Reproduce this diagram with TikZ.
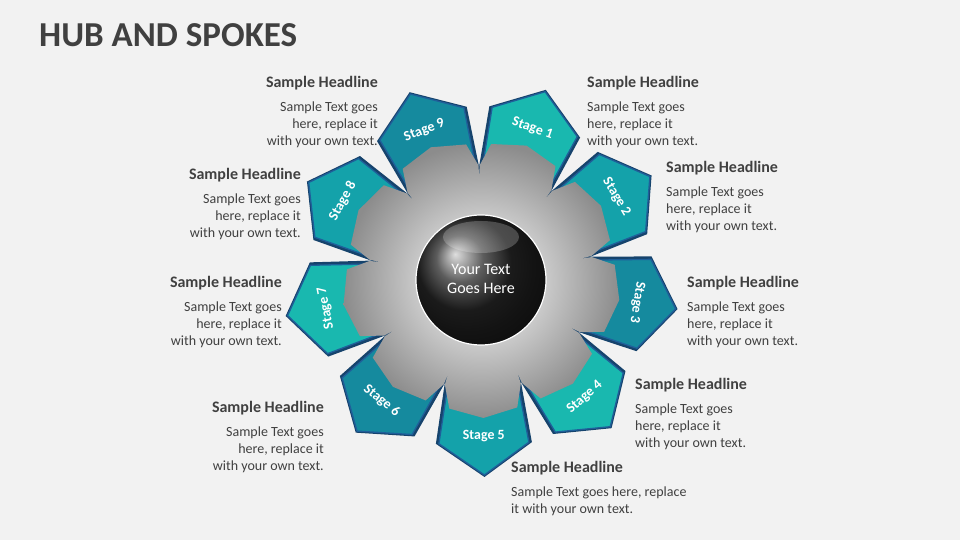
\documentclass[tikz,border=0pt]{standalone}
\usepackage{fontspec}
\setmainfont{Carlito}
\usetikzlibrary{calc}
\definecolor{bg}{HTML}{F2F2F2}
\definecolor{tx}{HTML}{404040}
\definecolor{edge}{HTML}{1F5F9A}
\definecolor{tA}{HTML}{19B8AF}
\definecolor{tB}{HTML}{14A2AA}
\definecolor{tC}{HTML}{158A9E}
\tikzset{
  hd/.style={font=\fontsize{16}{19}\selectfont\bfseries, text=tx, inner sep=0pt},
  bd/.style={font=\fontsize{14}{17}\selectfont, text=tx, inner sep=0pt},
  stg/.style={font=\fontsize{14}{16}\selectfont\bfseries, text=white, inner sep=0pt},
}
\begin{document}
\begin{tikzpicture}[x=1pt,y=1pt]
\fill[bg] (0,0) rectangle (960,540);
\useasboundingbox (0,0) rectangle (960,540);
\node[anchor=west, font=\fontsize{35}{38}\selectfont\bfseries, text=tx, inner sep=0pt] (title) at (39,505) {HUB AND SPOKES};
% spokes
\foreach \i/\a/\c in {1/71/tA,2/31/tB,3/-9/tC,4/-49/tA,5/-89/tB,6/-129/tC,7/-169/tA,8/-209/tB,9/-249/tC}{
  \begin{scope}[shift={(481,262)},rotate=\a]
    \fill[edge!70!black] (92,-36)--(165,-48)--(199,0)--(165,48)--(92,36)--cycle;
    \draw[edge, line width=1.3pt, fill=\c, line join=miter] (95,-33)--(165,-45)--(197,0)--(165,45)--(95,33)--cycle;
  \end{scope}
}
% gear
\begin{scope}[shift={(481,262)}]
\shade[inner color=white, outer color=gray!90, shading=radial]
  ([rotate=71]106,38)
  \foreach \a in {71,31,-9,-49,-89,-129,-169,-209,-249}{
    -- ([rotate=\a]106,38) -- ([rotate=\a]130,34) -- ([rotate=\a]140,0) -- ([rotate=\a]130,-34) -- ([rotate=\a]106,-38) -- (\a-20:100)
  } -- cycle;
\end{scope}
% stage labels
\foreach \i/\a/\rt in {1/71/-90,2/31/-90,3/-9/-90,4/-49/90,5/-89/90,6/-129/90,7/-169/-90,8/-209/-90,9/-249/-90}{
  \node[stg, rotate=\a+\rt] (stage\i) at ($(481,262)+(\a:158)$) {Stage \i};
}
% hub
\draw[white, line width=1.2pt, shading=ball, ball color=gray!30!black] (481,260) circle (65);
\fill[white, opacity=0.22] (481,303) ellipse (38 and 16);
\node[font=\fontsize{16}{19}\selectfont, text=white, align=center] (hub) at (481,261) {Your Text\\Goes Here};
% texts right
\foreach \n/\x/\y in {1/587/457,2/666/372,3/687/257,4/635/155}{
  \node[hd, anchor=west] (h\n) at (\x,\y) {Sample Headline};
  \node[bd, anchor=north west, align=left] (b\n) at (\x,\y-19) {Sample Text goes\\here, replace it\\with your own text.};
}
\node[hd, anchor=west] (h5) at (511,72) {Sample Headline};
\node[bd, anchor=north west, align=left] (b5) at (511,53) {Sample Text goes here, replace\\it with your own text.};
% texts left
\foreach \n/\x/\y in {6/324/132,7/282/257,8/301/365,9/378/457}{
  \node[hd, anchor=east] (h\n) at (\x,\y) {Sample Headline};
  \node[bd, anchor=north east, align=right] (b\n) at (\x,\y-19) {Sample Text goes\\here, replace it\\with your own text.};
}
\end{tikzpicture}
\end{document}
